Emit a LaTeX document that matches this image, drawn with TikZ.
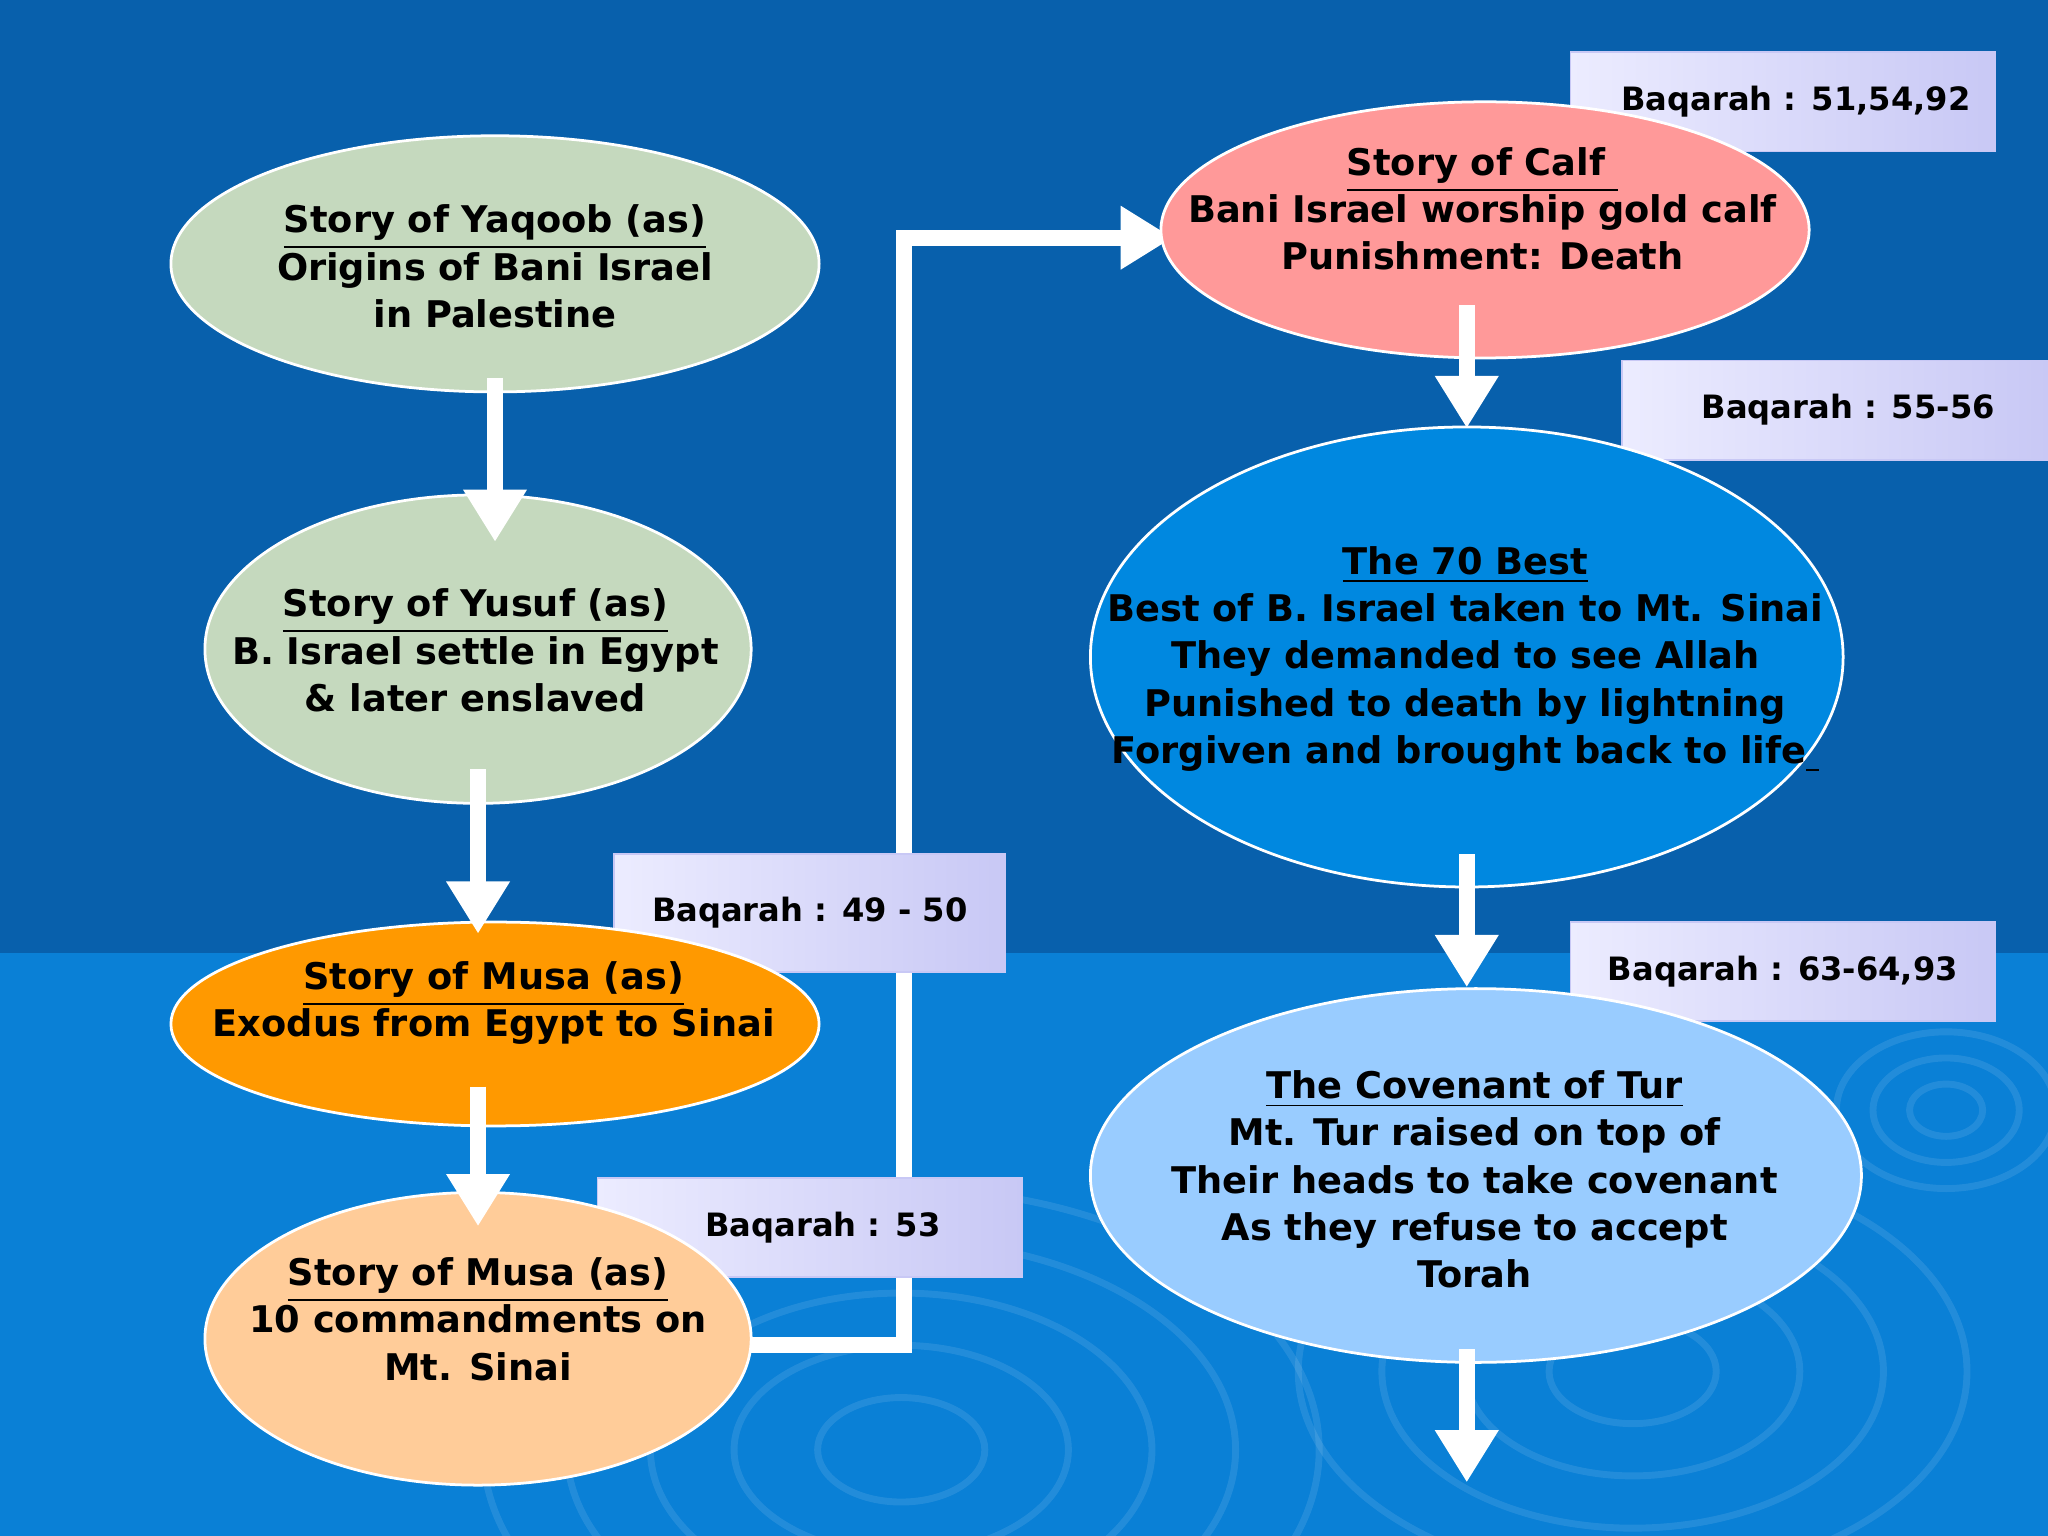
\documentclass[tikz,border=0pt]{standalone}
\usepackage{fontspec}
\setmainfont{DejaVu Sans}
\usetikzlibrary{shapes.geometric,arrows.meta,calc}
\definecolor{bgtop}{RGB}{8,96,172}
\definecolor{bgbot}{RGB}{10,128,214}
\definecolor{cgreen}{RGB}{197,217,190}
\definecolor{corange}{RGB}{255,153,0}
\definecolor{cpeach}{RGB}{255,204,153}
\definecolor{cpink}{RGB}{255,153,153}
\definecolor{cblue}{RGB}{0,136,224}
\definecolor{clight}{RGB}{153,204,255}
\definecolor{lav1}{RGB}{236,236,255}
\definecolor{lav2}{RGB}{200,200,245}
\begin{document}
\begin{tikzpicture}[x=0.01cm,y=-0.01cm,
  ell/.style={ellipse,draw=white,line width=0.6pt,inner sep=0pt},
  txt/.style={align=center,font=\fontsize{8}{10.3}\selectfont\bfseries},
  ref/.style={rectangle,left color=lav1,right color=lav2,draw=lav2,inner sep=0pt,font=\fontsize{7}{9}\selectfont\bfseries},
  arr/.style={draw=white,line width=0.12cm,-{Triangle[width=0.46cm,length=0.4cm]}}]
\useasboundingbox (0,0) rectangle (1568,1176);
\fill[bgtop] (0,0) rectangle (1568,730);
\fill[bgbot] (0,730) rectangle (1568,1176);
\foreach \r in {40,80,120,160,200}{\draw[white,opacity=0.1,line width=1.5pt] (690,1110) ellipse ({\r*1.6} and \r);}
\foreach \r in {40,80,120,160}{\draw[white,opacity=0.1,line width=1.5pt] (1250,1050) ellipse ({\r*1.6} and \r);}
\foreach \r in {20,40,60}{\draw[white,opacity=0.1,line width=1.5pt] (1490,850) ellipse ({\r*1.4} and \r);}
% node positions (shapes drawn later)
\path (366,1025) coordinate (dc) (1137,176) coordinate (ec);
% elbow arrow behind boxes
\draw[arr] ($(dc)+(204,5)$) -- (692,1030) -- (692,182) -- ($(ec)+(-239,6)$);
% boxes
\node[ref,minimum width=3.25cm,minimum height=0.76cm] (r1) at (1365,78) {\hspace*{0.2cm}Baqarah : 51,54,92};
\node[ref,minimum width=3.25cm,minimum height=0.76cm] (r4) at (620,940) {\hspace*{0.2cm}Baqarah : 53};
\node[ref,minimum width=3.26cm,minimum height=0.76cm] (r2) at (1405,314) {\hspace*{0.2cm}Baqarah : 55-56};
\node[ref,minimum width=2.99cm,minimum height=0.9cm] (r3) at (620,699) {Baqarah : 49 - 50};
\node[ref,minimum width=3.25cm,minimum height=0.76cm] (r5) at (1365,744) {Baqarah : 63-64,93};
% ellipses
\node[ell,fill=cgreen,minimum width=4.96cm,minimum height=1.96cm] (a) at (379,202) {};
\node[txt] at (379,204) {\underline{Story of Yaqoob (as)}\\Origins of Bani Israel\\in Palestine};
\node[ell,fill=cgreen,minimum width=4.18cm,minimum height=2.36cm] (b) at (366,497) {};
\node[txt] at (364,498) {\underline{Story of Yusuf (as)}\\B. Israel settle in Egypt\\\& later enslaved};
\node[ell,fill=corange,minimum width=4.96cm,minimum height=1.56cm] (c) at (379,784) {};
\node[txt] at (378,768) {\underline{Story of Musa (as)}\\Exodus from Egypt to Sinai};
\node[ell,fill=cpeach,minimum width=4.18cm,minimum height=2.24cm] (d) at (dc) {};
\node[txt] at (366,1010) {\underline{Story of Musa (as)}\\10 commandments on\\Mt. Sinai};
\node[ell,fill=cpink,minimum width=4.96cm,minimum height=1.96cm] (e) at (ec) {};
\node[txt] at (1135,160) {\underline{Story of Calf }\\Bani Israel worship gold calf\\Punishment: Death};
\node[ell,fill=cblue,minimum width=5.76cm,minimum height=3.52cm] (f) at (1123,503) {};
\node[txt] at (1122,505) {\underline{The 70 Best}\\Best of B. Israel taken to Mt. Sinai\\They demanded to see Allah\\Punished to death by lightning\\Forgiven and brought back to life\underline{\ }};
\node[ell,fill=clight,minimum width=5.9cm,minimum height=2.86cm] (g) at (1130,900) {};
\node[txt] at (1129,903) {\underline{The Covenant of Tur}\\Mt. Tur raised on top of\\Their heads to take covenant\\As they refuse to accept\\Torah};
\coordinate (end) at (1123,1135);
% arrows
\draw[arr] ($(a.south)+(0,-12)$) -- ($(a.south |- b.north)+(0,37)$);
\draw[arr] ($(b.south)+(0,-27)$) -- ($(b.south |- c.north)+(0,10)$);
\draw[arr] ($(d.north)+(0,-80)$) -- ($(d.north)+(0,27)$);
\draw[arr] ($(f.north)+(0,-92)$) -- ($(f.north)+(0,2)$);
\draw[arr] ($(f.south)+(0,-26)$) -- ($(f.south |- g.north)+(0,0)$);
\draw[arr] ($(f.south |- g.south)+(0,-11)$) -- (end);
\end{tikzpicture}
\end{document}
